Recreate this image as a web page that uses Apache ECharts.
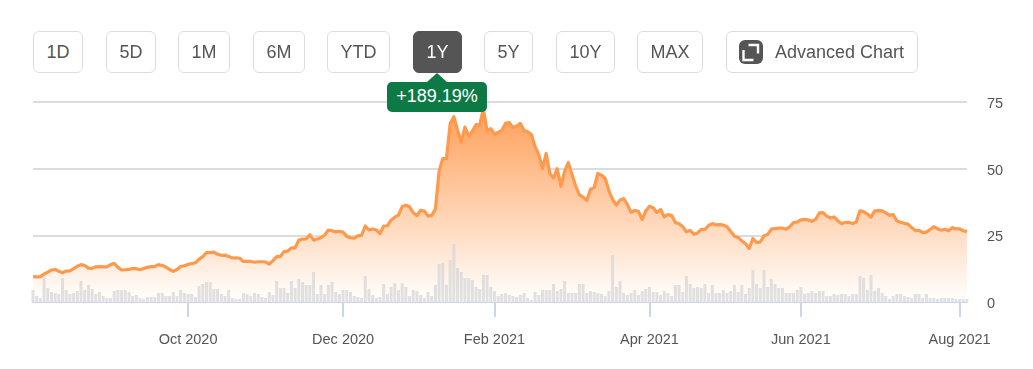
<!DOCTYPE html>
<html><head><meta charset="utf-8">
<style>
html,body{margin:0;padding:0;background:#fff;overflow:hidden}
body{width:1033px;height:369px;position:relative;font-family:"Liberation Sans",Arial,sans-serif}
#c{position:absolute;left:0;top:0;width:1033px;height:369px}
.b{position:absolute;top:31px;height:40px;line-height:40px;border:1px solid #dcdcdc;border-radius:6px;box-sizing:content-box;text-align:center;font-size:18px;color:#555;background:#fff}
.b.on{background:#555;border-color:#555;color:#fff}
#badge{position:absolute;left:387px;top:82px;width:100px;height:30px;line-height:28px;background:#0d7a46;color:#fff;border-radius:5px;text-align:center;font-size:18px}
#arrow{position:absolute;left:427px;top:73px;width:0;height:0;border-left:10px solid transparent;border-right:10px solid transparent;border-bottom:9px solid #0d7a46}
#icon{position:absolute;left:739px;top:40px}
</style></head><body>
<div id="c"></div>
<div id="btns"></div>
<div id="arrow"></div><div id="badge">+189.19%</div>
<svg id="icon" width="24" height="24" viewBox="0 0 24 24"><rect width="24" height="24" rx="6" fill="#555"/><path d="M9.5 5H19V13.5M14.5 20H4.5V10" fill="none" stroke="#fff" stroke-width="2.4"/></svg>
<script src="https://cdn.jsdelivr.net/npm/echarts@6/dist/echarts.min.js"></script>
<script>
const prices = [
9.5,9.4,9.5,10.5,11.2,12.0,12.2,11.5,11.0,11.6,
11.7,12.5,13.4,14.0,13.7,12.7,12.6,13.2,13.3,13.2,
13.2,14.0,14.5,13.0,12.0,12.1,12.2,12.6,12.5,12.1,
12.6,13.0,13.3,13.3,14.0,13.7,13.1,12.2,11.5,12.2,
13.3,13.6,14.1,14.4,14.7,16.1,17.0,18.5,18.5,18.7,
17.9,17.5,17.6,17.1,16.5,16.6,16.4,15.2,15.2,15.2,
14.9,15.1,15.1,15.0,14.2,15.5,17.0,17.0,18.9,19.1,
20.3,20.3,23.2,23.6,23.7,25.2,23.2,23.6,24.1,25.1,
27.0,26.7,26.3,26.5,26.2,24.6,24.1,23.9,24.8,25.0,
28.5,27.0,27.4,27.0,25.7,28.5,28.6,30.7,31.8,32.6,
35.8,36.3,35.7,33.5,32.4,34.4,34.1,32.2,32.5,34.8,
49,53.8,53.8,66.9,69.5,64.4,60,65.6,62.3,64,
66.5,66.3,72.5,64.1,65,63,63.6,64.4,67,67.3,
65.4,66,67,64.3,63.8,62.8,58.2,55.3,50,55.7,
48.2,46.5,50,43.4,49,52.3,47.8,43.5,40.2,39.3,
38,42.3,42.9,48.2,47.5,46.3,41.7,38.5,36.3,38.2,
38.8,36.5,33.6,34.3,34,30.9,34.2,35.9,35.3,33.6,
34.7,31.9,32.8,32.4,29.8,29.3,28.2,26.3,26.9,25.4,
25.9,27.2,27.2,28.7,29.4,28.9,29,28.8,28.2,26.4,
24.7,24.2,22.9,21.9,20.1,23.8,22.3,22.5,24.8,25.3,
27.3,27.5,27.7,27.7,27.3,28.2,29.8,30,30.8,31,
30.8,30.2,31,33.4,33.5,32.2,31.5,31.9,30.4,29.4,
29.8,29.9,29.4,30,34.2,33.9,33,31.8,34.2,34.3,
34.2,33.4,32.5,32.8,30.4,29.9,29.5,29.2,27.9,26.8,
26.9,26,26.2,27.2,28.2,27.5,26.9,27.3,26.7,27.9,
27.4,27.4,26.7,26.5];
const volume = [
12,6,4,26,14,10,9,8,24,12,
8,9,11,21,12,17,13,8,10,6,
4,4,11,12,12,12,10,6,7,4,
3,5,5,5,9,9,6,6,10,6,
12,9,8,8,5,16,18,20,20,13,
13,8,6,12,4,3,3,9,8,6,
9,8,5,4,10,7,21,14,14,9,
21,14,23,20,17,17,30,8,17,8,
17,20,10,8,12,12,10,6,5,4,
26,13,7,4,5,18,8,15,19,12,
19,15,6,12,11,7,4,10,6,17,
38,39,17,42,58,34,30,24,24,22,
15,13,27,27,15,11,6,8,9,7,
6,5,7,9,4,2,10,7,12,12,
12,18,11,13,21,9,9,9,18,18,
9,11,10,9,8,6,11,47,15,21,
9,7,9,12,7,11,13,15,10,10,
7,11,9,6,17,17,10,26,18,14,
15,14,18,9,17,9,9,12,9,11,
17,10,17,8,14,32,18,14,32,15,
23,18,14,14,9,9,9,12,15,8,
9,11,9,11,11,6,6,8,7,8,
8,6,8,8,26,24,12,27,11,14,
9,6,3,6,8,8,6,5,4,8,
8,4,8,4,4,3,4,4,4,4,
3,3,3,3];
const tickIndex = [42,84,125,167,208,251];
const tickNames = ['Oct 2020','Dec 2020','Feb 2021','Apr 2021','Jun 2021','Aug 2021'];
const categories = prices.map((_, i) => {
  const k = tickIndex.indexOf(i);
  return k >= 0 ? tickNames[k] : 'day ' + i;
});
const ranges = [['1D',33,50],['5D',106,50],['1M',178,52],['6M',253,52],['YTD',327,63],['1Y',413,49],['5Y',484,49],['10Y',556,59],['MAX',637,66]];

const host = document.getElementById('btns');
ranges.forEach(([t,x,w]) => {
  const d = document.createElement('div');
  d.className = 'b' + (t === '1Y' ? ' on' : '');
  d.textContent = t;
  d.style.left = x + 'px'; d.style.width = (w - 2) + 'px';
  host.appendChild(d);
});
const adv = document.createElement('div');
adv.className = 'b'; adv.textContent = 'Advanced Chart';
adv.style.left = '726px'; adv.style.width = '190px'; adv.style.textAlign = 'left';
adv.style.textIndent = '48px';
host.appendChild(adv);

const chart = echarts.init(document.getElementById('c'), null, {renderer:'canvas'});
chart.setOption({
  animation:false,
  grid:{left:33,right:66,top:102,bottom:67,containLabel:false},
  xAxis:{type:'category',data:categories,boundaryGap:false,
    axisLine:{show:true,lineStyle:{color:'#ccd6eb',width:2}},
    axisTick:{show:true,length:15,customValues:tickIndex,lineStyle:{color:'#ccd6eb',width:2}},
    axisLabel:{customValues:tickIndex,formatter:(v)=>v,color:'#555',fontSize:14.5,fontFamily:'Liberation Sans',margin:30,hideOverlap:false},
    splitLine:{show:false}},
  yAxis:[
    {type:'value',position:'right',min:0,max:75,interval:25,
     axisLine:{show:false},axisTick:{show:false},
     axisLabel:{color:'#555',fontSize:14.5,fontFamily:'Liberation Sans',margin:20,align:'left',verticalAlign:'top',lineHeight:4},
     splitLine:{lineStyle:{color:'#dcdcdc',width:2}}},
    {type:'value',min:0,max:200,show:false,splitLine:{show:false}}
  ],
  series:[
    {type:'line',data:prices,yAxisIndex:0,symbol:'none',smooth:false,z:2,
     lineStyle:{color:'#ff9a4d',width:3.2,join:'round'},
     areaStyle:{color:new echarts.graphic.LinearGradient(0,0,0,1,[{offset:0,color:'#ff9f58'},{offset:1,color:'#ffffff'}]),opacity:1}},
    {type:'bar',data:volume,yAxisIndex:1,barWidth:3,z:3,itemStyle:{color:'rgba(214,214,214,0.72)'}}
  ]
});
</script>
</body></html>
